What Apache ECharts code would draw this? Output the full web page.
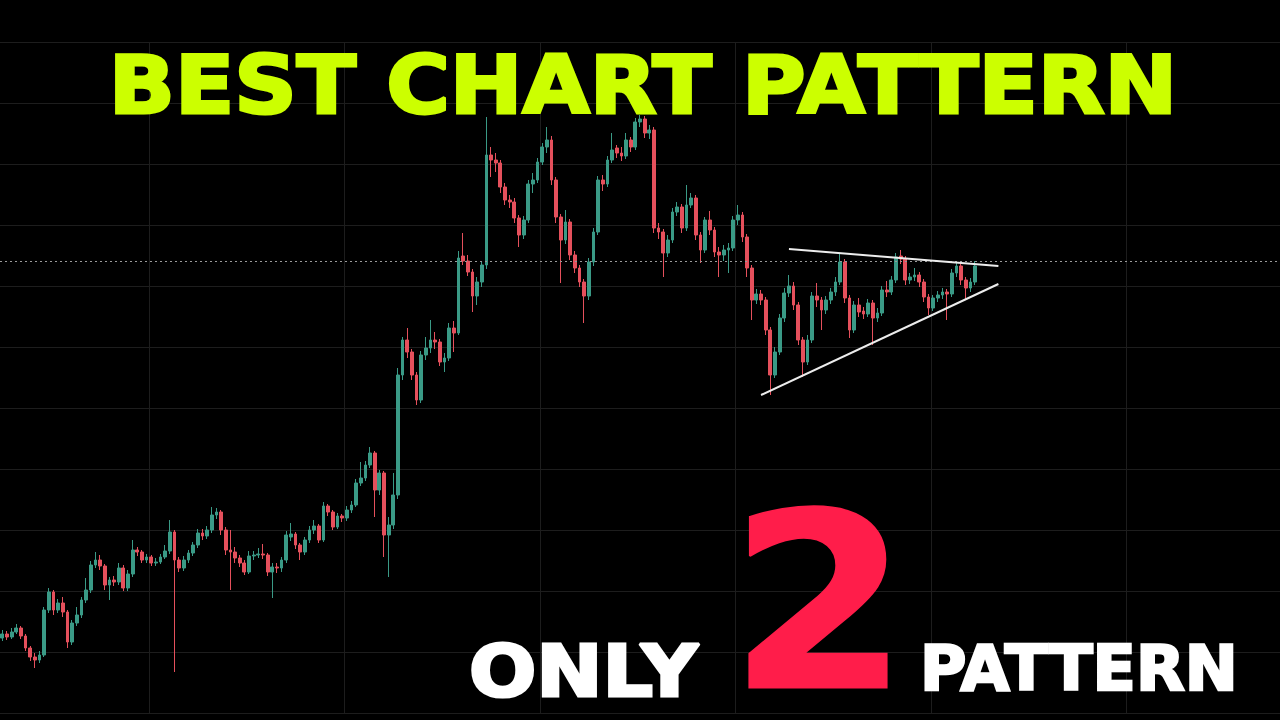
<!DOCTYPE html>
<html>
<head>
<meta charset="utf-8">
<script src="https://cdn.jsdelivr.net/npm/echarts@6/dist/echarts.min.js"></script>
<style>
html,body{margin:0;padding:0;background:#000;}
#chart{width:1280px;height:720px;}
</style>
</head>
<body>
<div id="chart"></div>
<script>
// ---- data (price units) ----
const opens = [
75,79,76,81,85,77,65,56,53,58,
103,121,103,110,101,71,90,98,113,123,
148,153,147,128,133,131,145,125,139,163,
161,153,156,150,151,156,162,181,153,145,
153,160,168,180,177,183,198,201,183,163,
161,155,150,141,157,158,159,158,141,146,
145,153,176,179,168,161,173,183,187,173,
207,201,186,197,195,203,208,230,235,248,
260,223,240,178,188,218,338,373,361,338,
313,358,365,373,371,351,355,385,380,457,
452,441,417,431,448,558,553,550,526,513,
511,495,478,493,529,533,551,566,573,533,
496,473,491,458,445,431,417,451,481,533,
529,553,565,560,557,573,566,591,594,580,
583,485,481,460,473,501,506,485,508,515,
478,463,493,483,461,458,463,465,493,498,
476,445,413,419,413,383,338,361,395,420,
427,408,373,351,373,417,413,403,413,421,
431,451,415,383,408,402,399,410,395,400,
423,421,433,457,454,433,436,438,431,416,
405,415,418,421,419,440,447,433,425,431
];
const closes = [
79,76,81,85,77,65,56,53,58,103,
121,103,110,101,71,90,98,113,123,148,
153,147,128,133,131,145,125,139,163,161,
153,156,150,151,156,162,181,153,145,153,
160,168,180,177,183,198,201,183,163,161,
155,150,141,157,158,159,158,141,146,145,
153,178,179,168,161,173,183,187,173,207,
201,186,197,195,203,208,230,235,248,260,
223,240,178,188,218,338,373,361,338,313,
358,365,373,371,351,355,385,380,455,452,
441,417,431,448,558,553,550,526,513,511,
495,478,493,529,533,551,566,573,533,496,
473,491,458,445,431,417,451,481,533,529,
553,563,560,557,573,566,591,594,580,583,
485,481,460,473,501,506,485,508,515,478,
463,493,483,461,458,463,465,493,498,476,
445,413,419,413,383,338,361,395,420,427,
408,373,351,373,417,413,403,413,421,431,
451,415,383,408,401,399,410,395,400,423,
421,433,456,454,433,436,438,431,416,405,
415,418,421,419,440,447,433,425,431,447
];
const lows = [
72,73,74,79,74,62,52,45,50,56,
100,98,100,96,65,68,87,95,110,120,
145,143,123,113,127,128,122,122,136,157,
150,150,147,147,149,154,159,41,141,142,
150,157,165,173,174,180,194,178,158,123,
150,146,138,139,153,155,154,137,115,140,
141,150,172,164,153,158,170,179,170,171,
197,183,184,191,192,200,206,227,232,245,
196,218,156,136,184,214,333,355,333,308,
310,353,360,364,347,341,352,361,378,448,
437,401,408,426,444,536,541,520,508,505,
490,466,474,490,520,530,548,560,528,490,
430,469,453,440,426,390,413,447,478,522,
526,550,555,552,554,561,563,586,575,574,
480,474,436,456,470,497,480,482,505,473,
450,460,478,456,436,452,440,462,488,471,
436,393,409,408,378,318,335,358,391,416,
403,368,336,348,370,406,383,399,409,417,
428,410,375,380,396,394,396,368,391,397,
416,418,430,449,428,429,432,426,411,398,
402,411,414,393,416,436,428,413,421,428
];
const highs = [
83,82,85,89,87,79,67,60,62,106,
125,123,114,116,103,93,106,116,135,152,
161,158,149,136,137,150,148,143,173,166,
163,159,158,155,159,168,193,183,156,157,
163,171,184,184,187,206,205,203,186,183,
166,158,153,162,162,165,169,160,150,150,
156,182,190,181,170,176,187,193,189,211,
209,203,200,199,207,212,234,251,252,266,
262,243,242,196,240,345,376,385,364,341,
362,376,393,381,374,360,390,392,462,480,
458,444,436,452,596,566,560,553,530,518,
515,498,497,533,540,555,570,586,577,536,
499,503,494,462,448,434,455,485,537,538,
557,580,568,566,580,576,595,598,597,588,
586,490,484,478,505,511,509,528,520,518,
481,496,502,486,466,468,470,497,508,501,
479,448,424,423,416,386,366,399,425,438,
431,411,376,378,421,430,416,417,425,436,
460,454,418,412,415,406,414,413,405,427,
432,437,460,463,457,440,445,441,434,419,
418,422,425,424,444,451,450,436,435,452
];
const categoryCount = 275;           // bars plus empty space to the right
const categories = Array.from({length: categoryCount}, (_, i) => 'P' + (i + 1));
const priceLine = 452;               // dotted last-price line
const upperTrend = [[169, 464], [214, 447]];
const lowerTrend = [[163, 318], [214, 429]];
const yMin = 0, yMax = 671, yStep = 61;
const titleText = 'BEST CHART PATTERN';
const onlyText = 'ONLY';
const numberText = '2';
const patternText = 'PATTERN';

const candles = opens.map((o, i) => [o, closes[i], lows[i], highs[i]]);

function txt(text, x, y, size, color, align, sx, strokeW, lh) {
  return {
    type: 'text', x: x, y: y, z: 100, scaleX: sx, scaleY: 1,
    style: {
      text: text, fill: color, stroke: color, lineWidth: strokeW,
      fontFamily: 'DejaVu Sans', fontWeight: 'bold', fontSize: size,
      lineHeight: lh,
      align: align, verticalAlign: 'middle',
      textAlign: align, textVerticalAlign: 'middle'
    }
  };
}

const chart = echarts.init(document.getElementById('chart'), null, {renderer: 'svg', width: 1280, height: 720});
chart.setOption({
  backgroundColor: '#000000',
  animation: false,
  grid: {left: 0, right: 0, top: 42, bottom: 7, containLabel: false},
  xAxis: {
    type: 'category',
    data: categories,
    boundaryGap: true,
    axisLine: {show: false},
    axisTick: {show: false},
    axisLabel: {show: false},
    splitLine: {
      show: true,
      interval: (idx) => idx % 42 === 32,
      lineStyle: {color: '#1d1d1d', width: 1}
    }
  },
  yAxis: {
    type: 'value',
    min: yMin, max: yMax, interval: yStep,
    axisLine: {show: false},
    axisTick: {show: false},
    axisLabel: {show: false},
    splitLine: {show: true, lineStyle: {color: '#1d1d1d', width: 1}}
  },
  series: [{
    type: 'candlestick',
    data: candles,
    barWidth: '70%',
    itemStyle: {
      color: '#3a9a86',
      color0: '#e5505c',
      borderColor: '#3a9a86',
      borderColor0: '#e5505c',
      borderWidth: 1
    },
    markLine: {
      silent: true,
      symbol: ['none', 'none'],
      label: {show: false},
      data: [
        {yAxis: priceLine, lineStyle: {color: '#9a9a9a', width: 1, type: [2, 3]}},
        [{coord: upperTrend[0]}, {coord: upperTrend[1], lineStyle: {color: '#ececec', width: 2, type: 'solid'}}],
        [{coord: lowerTrend[0]}, {coord: lowerTrend[1], lineStyle: {color: '#ececec', width: 2, type: 'solid'}}]
      ]
    }
  }],
  graphic: [
    txt(titleText, 643, 86, 80, '#ccff00', 'center', 1.085, 3, 84),
    txt(onlyText, 469, 671, 72, '#ffffff', 'left', 1.1, 3, 76),
    txt(numberText, 819, 603, 244, '#ff1d4a', 'center', 1.06, 2, 200),
    txt(patternText, 920, 669, 62, '#ffffff', 'left', 1.022, 2.5, 66)
  ]
});
</script>
</body>
</html>
